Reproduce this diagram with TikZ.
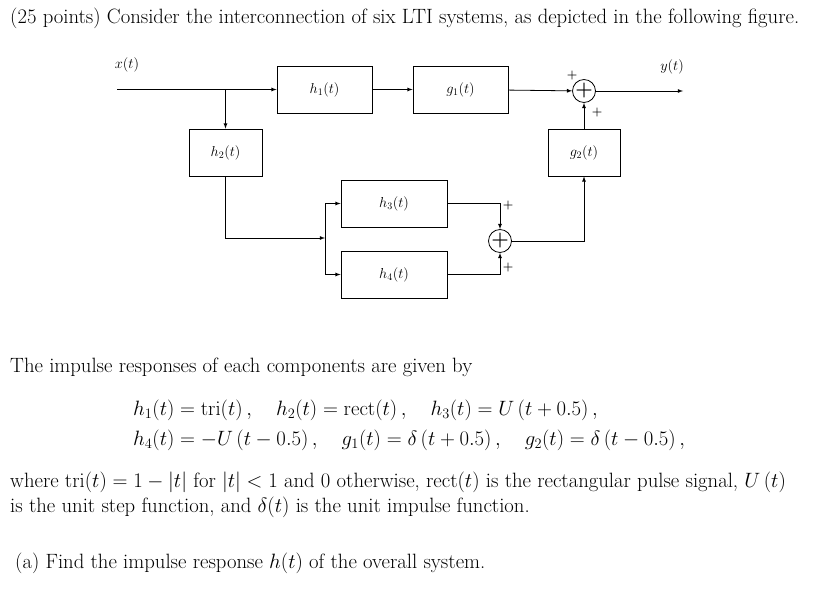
\documentclass[tikz,border=0pt]{standalone}
\usepackage{amsmath}
\usetikzlibrary{positioning}
\tikzset{
  blk/.style={draw,thick,minimum width=#1,minimum height=47pt,inner sep=0pt,font=\fontsize{14}{16}\selectfont},
  sumc/.style={draw,thick,circle,minimum size=20pt,inner sep=0pt,font=\fontsize{20}{20}\selectfont\bfseries},
  sig/.style={thick,-latex},
  pl/.style={font=\fontsize{12}{12}\selectfont\bfseries},
  lab/.style={font=\fontsize{14}{16}\selectfont},
  txt/.style={anchor=base west,inner sep=0pt,font=\fontsize{20.7}{25}\selectfont}
}
\begin{document}
\begin{tikzpicture}[x=1pt,y=-1pt]
    \useasboundingbox (0,0) rectangle (832,594);
    \node[txt] (head) at (10,24) {(25 points) Consider the interconnection of six LTI systems, as depicted in the following figure.};
    % blocks
    \node[blk=95pt] (h1) at (324.5,89.5) {$h_1(t)$};
    \node[blk=95pt] (g1) at (460.5,89.5) {$g_1(t)$};
    \node[blk=73pt] (h2) at (225.5,152.5) {$h_2(t)$};
    \node[blk=106pt] (h3) at (394,203.5) {$h_3(t)$};
    \node[blk=106pt] (h4) at (394,274.5) {$h_4(t)$};
    \node[blk=72pt] (g2) at (584,152.5) {$g_2(t)$};
    \node[sumc] (s1) at (584,91) {+};
    \node[sumc] (s2) at (500,241) {+};
    \coordinate (in) at (117,89.5);
    \coordinate (out) at (683,91);
    \coordinate (br) at (225.5,89.5);
    \coordinate (sp) at (325,238);
    \node[lab] at (127,65) {$x(t)$};
    \node[lab] at (672,67) {$y(t)$};
    % connectors
    \draw[sig] (in) -- (h1);
    \draw[sig] (br) -- (h2);
    \draw[sig] (h1) -- (g1);
    \draw[sig] (g1) -- (s1);
    \draw[sig] (s1) -- (out);
    \draw[sig] (h2) |- (sp);
    \draw[sig] (sp) |- (h3);
    \draw[sig] (sp) |- (h4);
    \draw[sig] (h3) -| (s2);
    \draw[sig] (h4) -| (s2);
    \draw[sig] (s2) -| (g2);
    \draw[sig] (g2) -- (s1);
    \node[pl] at (572,76) {+};
    \node[pl] at (597,113) {+};
    \node[pl] at (508,206) {+};
    \node[pl] at (508,268) {+};
    % text
    \node[txt] (intro) at (10,372) {The impulse responses of each components are given by};
    \node[txt] (eq1) at (133,415) {$h_1(t)=\operatorname{tri}(t)\,,\quad h_2(t)=\operatorname{rect}(t)\,,\quad h_3(t)=U\left(t+0.5\right),$};
    \node[txt] (eq2) at (133,445) {$h_4(t)=-U\left(t-0.5\right),\quad g_1(t)=\delta\left(t+0.5\right),\quad g_2(t)=\delta\left(t-0.5\right),$};
    \node[txt] (wh1) at (10,487) {where $\operatorname{tri}(t)=1-|t|$ for $|t|<1$ and 0 otherwise, $\operatorname{rect}(t)$ is the rectangular pulse signal, $U\left(t\right)$};
    \node[txt] (wh2) at (10,512) {is the unit step function, and $\delta(t)$ is the unit impulse function.};
    \node[txt] (qa) at (15,568) {(a) Find the impulse response $h(t)$ of the overall system.};
\end{tikzpicture}
\end{document}
